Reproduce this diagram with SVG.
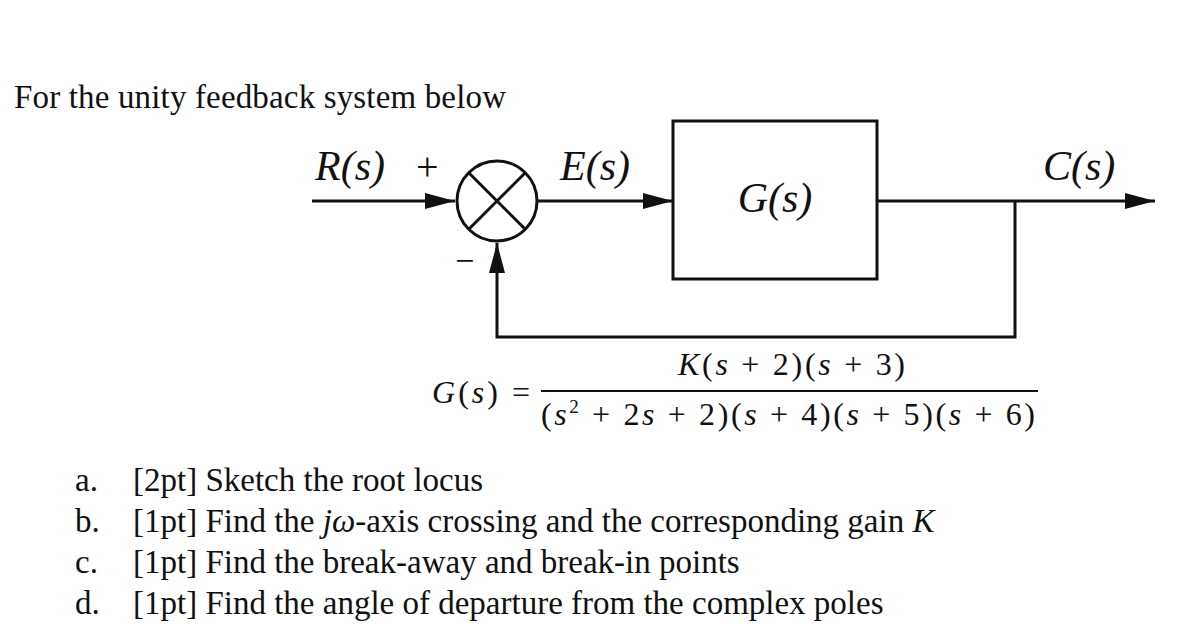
<svg xmlns="http://www.w3.org/2000/svg" width="1196" height="636" viewBox="0 0 1196 636">
<style>
text{font-family:"Liberation Serif",serif;fill:#111}
.t{font-size:33px}
.lbl{font-size:42px;font-style:italic}
.m{font-size:32px}
.ln{stroke:#111;stroke-width:3;fill:none}
</style>
<defs><marker id="b" markerWidth="30" markerHeight="16" refX="30" refY="8" orient="auto" markerUnits="userSpaceOnUse"><path d="M0,0L30,8L0,16z" fill="#111"/></marker></defs>
<rect width="1196" height="636" fill="#fff"/>
<text class="t" x="14" y="108" textLength="492">For the unity feedback system below</text>
<g id="sum"><circle class="ln" cx="497" cy="201" r="40"/><path class="ln" d="M469,173L525,229M525,173L469,229"/></g>
<g id="G"><rect class="ln" x="673" y="121" width="204" height="158"/><text class="lbl" x="775" y="212" text-anchor="middle">G(s)</text></g>
<g id="labels">
<text class="lbl" x="315" y="180">R(s)</text><text x="416" y="180" style="font-size:40px">+</text>
<text class="lbl" x="560" y="180">E(s)</text>
<text class="lbl" x="1043" y="180">C(s)</text>
<text x="455" y="272" style="font-size:34px">−</text>
</g>
<g id="connectors">
<path class="ln" d="M312,201H455" marker-end="url(#b)"/>
<path class="ln" d="M537,201H673" marker-end="url(#b)"/>
<path class="ln" d="M877,201H1155" marker-end="url(#b)"/>
<path class="ln" d="M1015,201V337H497V243" marker-end="url(#b)"/>
</g>
<g id="formula">
<text class="m" x="432" y="403" textLength="98"><tspan font-style="italic">G</tspan>(<tspan font-style="italic">s</tspan>) =</text>
<text class="m" x="678" y="375" textLength="227"><tspan font-style="italic">K</tspan>(<tspan font-style="italic">s</tspan> + 2)(<tspan font-style="italic">s</tspan> + 3)</text>
<path d="M541,391H1038" stroke="#111" stroke-width="2"/>
<text class="m" x="541" y="425" textLength="494">(<tspan font-style="italic">s</tspan><tspan font-size="19" dy="-12">2</tspan><tspan dy="12"> + 2</tspan><tspan font-style="italic">s</tspan> + 2)(<tspan font-style="italic">s</tspan> + 4)(<tspan font-style="italic">s</tspan> + 5)(<tspan font-style="italic">s</tspan> + 6)</text>
</g>
<g id="items">
<text class="t" x="75" y="491">a.</text><text class="t" x="133" y="491">[2pt] Sketch the root locus</text>
<text class="t" x="75" y="532">b.</text><text class="t" x="133" y="532">[1pt] Find the <tspan font-style="italic">jω</tspan>-axis crossing and the corresponding gain <tspan font-style="italic">K</tspan></text>
<text class="t" x="75" y="573">c.</text><text class="t" x="133" y="573">[1pt] Find the break-away and break-in points</text>
<text class="t" x="75" y="614">d.</text><text class="t" x="133" y="614">[1pt] Find the angle of departure from the complex poles</text>
</g>
</svg>
